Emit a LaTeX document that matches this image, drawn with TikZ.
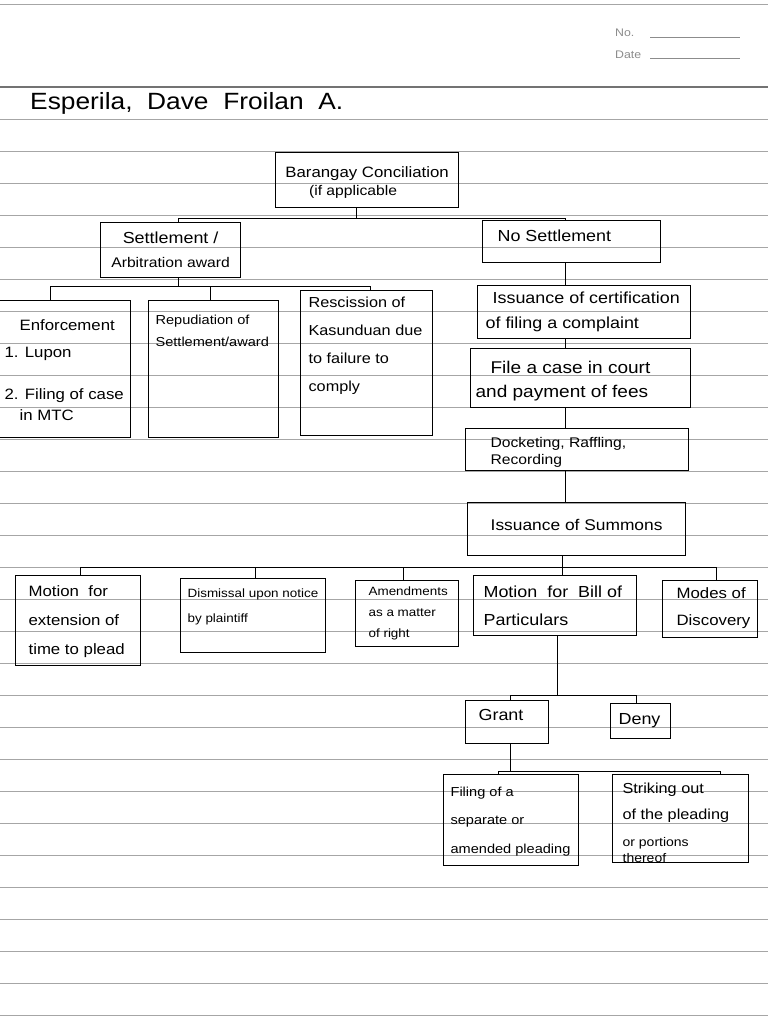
\documentclass[tikz,border=0pt]{standalone}
\usepackage{fontspec}
\setmainfont[FakeStretch=1.12]{Liberation Sans}
\usetikzlibrary{calc}
\newcommand{\bxt}[4][\raggedright]{\parbox[c][#3][t]{#2}{#1#4}}
\begin{document}
\begin{tikzpicture}[x=1pt,y=-1pt,
  ruling/.style={draw=black!35, line width=0.8pt},
  topruling/.style={draw=black!55, line width=1.2pt},
  hdr/.style={text=black!45, font=\fontsize{11}{13}\selectfont, anchor=west, inner sep=0pt},
  hdrline/.style={draw=black!45, line width=0.6pt},
  box/.style={draw, line width=1.2pt, rectangle, inner xsep=5pt, inner ysep=4pt, anchor=north west},
  conn/.style={draw, line width=1.1pt}]
\useasboundingbox (0,0) rectangle (768,1024);
\fill[white] (0,0) rectangle (768,1024);
% ruled paper
\draw[ruling] (0,4) -- (768,4);
\draw[topruling] (0,87) -- (768,87);
\foreach \k in {1,...,29} \draw[ruling] (0,{87+32*\k}) -- (768,{87+32*\k});
% header
\node[hdr] (no) at (615,33) {No.};
\draw[hdrline] (650,37) -- (740,37);
\node[hdr] (date) at (615,55) {Date};
\draw[hdrline] (650,58) -- (740,58);
\node[anchor=west, inner sep=0pt, font=\fontsize{23.5}{28}\selectfont] (name) at (30,103) {Esperila,\ \ Dave\ \ Froilan\ \ A.};
% boxes
\node[box] (bar) at (275,152) {\bxt[\centering]{173pt}{47pt}{\vspace*{10pt}{\fontsize{15}{19}\selectfont\mbox{Barangay Conciliation}\par}{\fontsize{14}{18}\selectfont (if applicable\hspace*{28pt}\par}}};
\node[box] (set) at (100,222) {\bxt[\centering]{130pt}{47pt}{\vspace*{5pt}{\fontsize{16}{24}\selectfont Settlement /\par}{\fontsize{14}{24}\selectfont Arbitration award\par}}};
\node[box] (noset) at (482,220) {\bxt{168pt}{34pt}{\fontsize{16}{19}\selectfont\vspace*{5pt}\hspace*{10pt}No Settlement}};
\node[box] (enf) at (-4,300) {\bxt{124pt}{129pt}{\fontsize{15}{27}\selectfont\vspace*{15pt}\hspace*{18pt}Enforcement\par\hspace*{3pt}1. Lupon\par\vspace{15pt}\hspace*{3pt}2. Filing of case\par\vspace{-6pt}\hspace*{18pt}in MTC}};
\node[box] (rep) at (148,300) {\bxt{120pt}{129pt}{\fontsize{13}{22}\selectfont\vspace*{10pt}\hspace*{2pt}Repudiation of\par\hspace*{2pt}Settlement/award}};
\node[box] (resc) at (300,290) {\bxt{122pt}{137pt}{\fontsize{14.5}{28}\selectfont\vspace*{2pt}\hspace*{3pt}Rescission of\par\hspace*{3pt}Kasunduan due\par\hspace*{3pt}to failure to\par\hspace*{3pt}comply}};
\node[box] (cert) at (477,285) {\bxt{203pt}{45pt}{\fontsize{16}{25}\selectfont\vspace*{2pt}\hspace*{10pt}Issuance of certification\par\hspace*{3pt}of filing a complaint}};
\node[box] (file) at (470,348) {\bxt{210pt}{51pt}{\fontsize{17}{24}\selectfont\vspace*{9pt}\hspace*{15pt}File a case in court\par and payment of fees}};
\node[box] (dock) at (465,428) {\bxt{213pt}{34pt}{\fontsize{14}{17}\selectfont\vspace*{5pt}\hspace*{20pt}Docketing, Raffling,\par\hspace*{20pt}Recording}};
\node[box] (summ) at (467,502) {\bxt[\centering]{208pt}{45pt}{\fontsize{15.5}{19}\selectfont\vspace*{13pt}Issuance of Summons}};
\node[box] (ext) at (15,575) {\bxt{115pt}{82pt}{\fontsize{15}{29}\selectfont\vspace*{6pt}\hspace*{8pt}Motion\ \ for\par\hspace*{8pt}extension of\par\hspace*{8pt}time to plead}};
\node[box] (dis) at (180,578) {\bxt{135pt}{66pt}{\fontsize{12}{25}\selectfont\vspace*{6pt}\hspace*{2pt}Dismissal upon notice\par\hspace*{2pt}by plaintiff}};
\node[box] (amd) at (355,580) {\bxt{93pt}{58pt}{\fontsize{12}{21}\selectfont\vspace*{2pt}\hspace*{8pt}Amendments\par\hspace*{8pt}as a matter\par\hspace*{8pt}of right}};
\node[box] (bill) at (473,575) {\bxt{153pt}{52pt}{\fontsize{16}{28}\selectfont\vspace*{6pt}\hspace*{5pt}Motion\ \ for\ \ Bill of\par\hspace*{5pt}Particulars}};
\node[box] (modes) at (662,580) {\bxt{85pt}{49pt}{\fontsize{15}{27}\selectfont\vspace*{3pt}\hspace*{9pt}Modes of\par\hspace*{9pt}Discovery}};
\node[box] (grant) at (465,700) {\bxt{73pt}{35pt}{\fontsize{16}{18}\selectfont\vspace*{5pt}\hspace*{8pt}Grant}};
\node[box] (deny) at (610,703) {\bxt{50pt}{27pt}{\fontsize{16}{18}\selectfont\vspace*{6pt}\hspace*{3pt}Deny}};
\node[box] (filing) at (443,774) {\bxt{125pt}{83pt}{\fontsize{13}{28.5}\selectfont\vspace*{8pt}\hspace*{2pt}Filing of a\par\hspace*{2pt}separate or\par\hspace*{2pt}amended pleading}};
\node[box] (strike) at (612,774) {\bxt{126pt}{80pt}{\fontsize{14.5}{26.5}\selectfont\vspace*{4pt}\hspace*{5pt}Striking out\par\hspace*{5pt}of the pleading\par{\fontsize{12.5}{26.5}\selectfont\hspace*{5pt}or portions\par}{\fontsize{12.5}{16}\selectfont\hspace*{5pt}thereof\par}}};
% connectors
\coordinate (b1) at ([xshift=-11pt]bar.south);
\coordinate (j1) at ($(b1)+(0,10)$);
\draw[conn] (b1) -- (j1);
\draw[conn] ([xshift=8pt]set.north) |- (j1) -| ([xshift=-6pt]noset.north);
\coordinate (s1) at ([xshift=8pt]set.south);
\coordinate (j2) at ($(s1)+(0,8)$);
\draw[conn] (s1) -- (j2);
\draw[conn] ([xshift=-13pt]enf.north) |- (j2) -| ([xshift=4pt]resc.north);
\draw[conn] ([xshift=-3pt]rep.north) |- (j2);
\coordinate (vx) at ([xshift=-6pt]noset.south);
\draw[conn] (vx) -- (vx |- cert.north);
\draw[conn] (vx |- cert.south) -- (vx |- file.north);
\draw[conn] (vx |- file.south) -- (vx |- dock.north);
\draw[conn] (vx |- dock.south) -- (vx |- summ.north);
\coordinate (m1) at ([xshift=-14pt]summ.south);
\coordinate (j3) at ($(m1)+(0,11)$);
\draw[conn] (m1) -- (j3);
\draw[conn] ([xshift=2pt]ext.north) |- (j3) -| ([xshift=6pt]modes.north);
\draw[conn] ([xshift=2pt]dis.north) |- (j3);
\draw[conn] ([xshift=-4pt]amd.north) |- (j3);
\draw[conn] ([xshift=7pt]bill.north) |- (j3);
\coordinate (p1) at ([xshift=2.5pt]bill.south);
\coordinate (j4) at ($(p1)+(0,59)$);
\draw[conn] (p1) -- (j4);
\draw[conn] ([xshift=3.5pt]grant.north) |- (j4) -| ([xshift=-4pt]deny.north);
\coordinate (g1) at ([xshift=3.5pt]grant.south);
\coordinate (j5) at ($(g1)+(0,27)$);
\draw[conn] (g1) -- (j5);
\draw[conn] ([xshift=-13pt]filing.north) |- (j5) -| ([xshift=40pt]strike.north);
\end{tikzpicture}
\end{document}
